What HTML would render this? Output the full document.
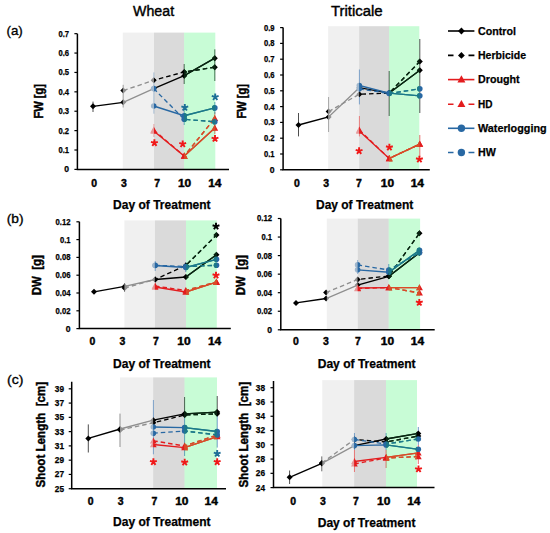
<!DOCTYPE html>
<html><head><meta charset="utf-8"><style>
html,body{margin:0;padding:0;background:#fff;}
svg{display:block;font-family:"Liberation Sans", sans-serif;}
</style></head><body>
<svg width="550" height="533" viewBox="0 0 550 533">
<rect width="550" height="533" fill="#fff"/>
<rect x="154" y="32.6" width="30.10" height="136.80" fill="#dadada"/>
<line x1="93.00" y1="101.6" x2="93.00" y2="112" stroke="#3a3a3a" stroke-width="0.9"/>
<line x1="123.30" y1="84.8" x2="123.30" y2="107.5" stroke="#3a3a3a" stroke-width="0.9"/>
<line x1="153.70" y1="72.4" x2="153.70" y2="113.7" stroke="#5a8cc0" stroke-width="0.9"/>
<line x1="184.20" y1="64" x2="184.20" y2="84" stroke="#3a3a3a" stroke-width="0.9"/>
<line x1="214.80" y1="49.3" x2="214.80" y2="81" stroke="#3a3a3a" stroke-width="0.9"/>
<line x1="153.70" y1="124" x2="153.70" y2="137" stroke="#e85a5a" stroke-width="0.9"/>
<line x1="214.80" y1="112" x2="214.80" y2="134" stroke="#e85a5a" stroke-width="0.9"/>
<line x1="184.20" y1="110" x2="184.20" y2="125" stroke="#5a8cc0" stroke-width="0.9"/>
<line x1="214.80" y1="102" x2="214.80" y2="114" stroke="#5a8cc0" stroke-width="0.9"/>
<path d="M93.00 106.30L123.30 102.30L153.70 88.60L184.20 75.70L214.80 58.20" fill="none" stroke="#000" stroke-width="1.35"/>
<path d="M90.00 106.30L93.00 103.30L96.00 106.30L93.00 109.30Z" fill="#000"/>
<path d="M120.30 102.30L123.30 99.30L126.30 102.30L123.30 105.30Z" fill="#000"/>
<path d="M150.70 88.60L153.70 85.60L156.70 88.60L153.70 91.60Z" fill="#000"/>
<path d="M181.20 75.70L184.20 72.70L187.20 75.70L184.20 78.70Z" fill="#000"/>
<path d="M211.80 58.20L214.80 55.20L217.80 58.20L214.80 61.20Z" fill="#000"/>
<path d="M123.30 90.60L153.70 80.30L184.20 72.00L214.80 67.20" fill="none" stroke="#000" stroke-width="1.35" stroke-dasharray="4.5 3"/>
<path d="M120.30 90.60L123.30 87.60L126.30 90.60L123.30 93.60Z" fill="#000"/>
<path d="M150.70 80.30L153.70 77.30L156.70 80.30L153.70 83.30Z" fill="#000"/>
<path d="M181.20 72.00L184.20 69.00L187.20 72.00L184.20 75.00Z" fill="#000"/>
<path d="M211.80 67.20L214.80 64.20L217.80 67.20L214.80 70.20Z" fill="#000"/>
<path d="M153.70 131.00L184.20 156.00L214.80 128.00" fill="none" stroke="#e31c1e" stroke-width="1.35"/>
<path d="M150.30 133.72L153.70 127.60L157.10 133.72Z" fill="#e31c1e"/>
<path d="M180.80 158.72L184.20 152.60L187.60 158.72Z" fill="#e31c1e"/>
<path d="M211.40 130.72L214.80 124.60L218.20 130.72Z" fill="#e31c1e"/>
<path d="M153.70 130.00L184.20 156.00L214.80 118.40" fill="none" stroke="#e31c1e" stroke-width="1.35" stroke-dasharray="4.5 3"/>
<path d="M150.30 132.72L153.70 126.60L157.10 132.72Z" fill="#e31c1e"/>
<path d="M180.80 158.72L184.20 152.60L187.60 158.72Z" fill="#e31c1e"/>
<path d="M211.40 121.12L214.80 115.00L218.20 121.12Z" fill="#e31c1e"/>
<path d="M153.70 106.00L184.20 115.70L214.80 107.90" fill="none" stroke="#2868a3" stroke-width="1.35"/>
<circle cx="153.70" cy="106.00" r="2.8" fill="#2868a3"/>
<circle cx="184.20" cy="115.70" r="2.8" fill="#2868a3"/>
<circle cx="214.80" cy="107.90" r="2.8" fill="#2868a3"/>
<path d="M153.70 88.60L184.20 119.30L214.80 121.80" fill="none" stroke="#2868a3" stroke-width="1.35" stroke-dasharray="4.5 3"/>
<circle cx="153.70" cy="88.60" r="2.8" fill="#2868a3"/>
<circle cx="184.20" cy="119.30" r="2.8" fill="#2868a3"/>
<circle cx="214.80" cy="121.80" r="2.8" fill="#2868a3"/>
<rect x="122.8" y="32.6" width="31.20" height="136.80" fill="#e6e6e6" fill-opacity="0.62"/>
<rect x="184.1" y="32.6" width="31.20" height="136.80" fill="#23f35b" fill-opacity="0.25"/>
<clipPath id="g77_169"><rect x="184.1" y="32.6" width="31.20" height="136.80"/></clipPath>
<g clip-path="url(#g77_169)">
<path d="M93.00 106.30L123.30 102.30L153.70 88.60L184.20 75.70L214.80 58.20" fill="none" stroke="#0a2312" stroke-width="1.35"/>
<path d="M90.00 106.30L93.00 103.30L96.00 106.30L93.00 109.30Z" fill="#0a2312"/>
<path d="M120.30 102.30L123.30 99.30L126.30 102.30L123.30 105.30Z" fill="#0a2312"/>
<path d="M150.70 88.60L153.70 85.60L156.70 88.60L153.70 91.60Z" fill="#0a2312"/>
<path d="M181.20 75.70L184.20 72.70L187.20 75.70L184.20 78.70Z" fill="#0a2312"/>
<path d="M211.80 58.20L214.80 55.20L217.80 58.20L214.80 61.20Z" fill="#0a2312"/>
<path d="M123.30 90.60L153.70 80.30L184.20 72.00L214.80 67.20" fill="none" stroke="#0a2312" stroke-width="1.35" stroke-dasharray="4.5 3"/>
<path d="M120.30 90.60L123.30 87.60L126.30 90.60L123.30 93.60Z" fill="#0a2312"/>
<path d="M150.70 80.30L153.70 77.30L156.70 80.30L153.70 83.30Z" fill="#0a2312"/>
<path d="M181.20 72.00L184.20 69.00L187.20 72.00L184.20 75.00Z" fill="#0a2312"/>
<path d="M211.80 67.20L214.80 64.20L217.80 67.20L214.80 70.20Z" fill="#0a2312"/>
<path d="M153.70 131.00L184.20 156.00L214.80 128.00" fill="none" stroke="#dc4a28" stroke-width="1.35"/>
<path d="M150.30 133.72L153.70 127.60L157.10 133.72Z" fill="#dc4a28"/>
<path d="M180.80 158.72L184.20 152.60L187.60 158.72Z" fill="#dc4a28"/>
<path d="M211.40 130.72L214.80 124.60L218.20 130.72Z" fill="#dc4a28"/>
<path d="M153.70 130.00L184.20 156.00L214.80 118.40" fill="none" stroke="#dc4a28" stroke-width="1.35" stroke-dasharray="4.5 3"/>
<path d="M150.30 132.72L153.70 126.60L157.10 132.72Z" fill="#dc4a28"/>
<path d="M180.80 158.72L184.20 152.60L187.60 158.72Z" fill="#dc4a28"/>
<path d="M211.40 121.12L214.80 115.00L218.20 121.12Z" fill="#dc4a28"/>
<path d="M153.70 106.00L184.20 115.70L214.80 107.90" fill="none" stroke="#1c7889" stroke-width="1.35"/>
<circle cx="153.70" cy="106.00" r="2.8" fill="#1c7889"/>
<circle cx="184.20" cy="115.70" r="2.8" fill="#1c7889"/>
<circle cx="214.80" cy="107.90" r="2.8" fill="#1c7889"/>
<path d="M153.70 88.60L184.20 119.30L214.80 121.80" fill="none" stroke="#1c7889" stroke-width="1.35" stroke-dasharray="4.5 3"/>
<circle cx="153.70" cy="88.60" r="2.8" fill="#1c7889"/>
<circle cx="184.20" cy="119.30" r="2.8" fill="#1c7889"/>
<circle cx="214.80" cy="121.80" r="2.8" fill="#1c7889"/>
</g>
<path d="M154.40 142.95L154.40 139.35M154.40 142.95L157.82 141.84M154.40 142.95L156.52 145.86M154.40 142.95L152.28 145.86M154.40 142.95L150.98 141.84" stroke="#f01818" stroke-width="1.9" stroke-linecap="butt" fill="none"/>
<path d="M182.70 144.05L182.70 140.45M182.70 144.05L186.12 142.94M182.70 144.05L184.82 146.96M182.70 144.05L180.58 146.96M182.70 144.05L179.28 142.94" stroke="#f01818" stroke-width="1.9" stroke-linecap="butt" fill="none"/>
<path d="M215.00 138.65L215.00 135.05M215.00 138.65L218.42 137.54M215.00 138.65L217.12 141.56M215.00 138.65L212.88 141.56M215.00 138.65L211.58 137.54" stroke="#f01818" stroke-width="1.9" stroke-linecap="butt" fill="none"/>
<path d="M184.80 107.55L184.80 103.95M184.80 107.55L188.22 106.44M184.80 107.55L186.92 110.46M184.80 107.55L182.68 110.46M184.80 107.55L181.38 106.44" stroke="#1d6e96" stroke-width="1.9" stroke-linecap="butt" fill="none"/>
<path d="M215.20 97.05L215.20 93.45M215.20 97.05L218.62 95.94M215.20 97.05L217.32 99.96M215.20 97.05L213.08 99.96M215.20 97.05L211.78 95.94" stroke="#1d6e96" stroke-width="1.9" stroke-linecap="butt" fill="none"/>
<path d="M77.4 33.7V169.4H229" fill="none" stroke="#000" stroke-width="1.5"/>
<line x1="74.4" y1="169.4" x2="77.4" y2="169.4" stroke="#000" stroke-width="1.2"/>
<text x="69" y="172.3" font-size="8.4" font-weight="bold" text-anchor="end" fill="#000" textLength="4.8" lengthAdjust="spacingAndGlyphs" stroke="#000" stroke-width="0.25">0</text>
<line x1="74.4" y1="150.01" x2="77.4" y2="150.01" stroke="#000" stroke-width="1.2"/>
<text x="69" y="152.91" font-size="8.4" font-weight="bold" text-anchor="end" fill="#000" textLength="10.6" lengthAdjust="spacingAndGlyphs" stroke="#000" stroke-width="0.25">0.1</text>
<line x1="74.4" y1="130.62" x2="77.4" y2="130.62" stroke="#000" stroke-width="1.2"/>
<text x="69" y="133.52" font-size="8.4" font-weight="bold" text-anchor="end" fill="#000" textLength="10.6" lengthAdjust="spacingAndGlyphs" stroke="#000" stroke-width="0.25">0.2</text>
<line x1="74.4" y1="111.23" x2="77.4" y2="111.23" stroke="#000" stroke-width="1.2"/>
<text x="69" y="114.13000000000001" font-size="8.4" font-weight="bold" text-anchor="end" fill="#000" textLength="10.6" lengthAdjust="spacingAndGlyphs" stroke="#000" stroke-width="0.25">0.3</text>
<line x1="74.4" y1="91.84" x2="77.4" y2="91.84" stroke="#000" stroke-width="1.2"/>
<text x="69" y="94.74000000000001" font-size="8.4" font-weight="bold" text-anchor="end" fill="#000" textLength="10.6" lengthAdjust="spacingAndGlyphs" stroke="#000" stroke-width="0.25">0.4</text>
<line x1="74.4" y1="72.45" x2="77.4" y2="72.45" stroke="#000" stroke-width="1.2"/>
<text x="69" y="75.35000000000001" font-size="8.4" font-weight="bold" text-anchor="end" fill="#000" textLength="10.6" lengthAdjust="spacingAndGlyphs" stroke="#000" stroke-width="0.25">0.5</text>
<line x1="74.4" y1="53.06" x2="77.4" y2="53.06" stroke="#000" stroke-width="1.2"/>
<text x="69" y="55.96" font-size="8.4" font-weight="bold" text-anchor="end" fill="#000" textLength="10.6" lengthAdjust="spacingAndGlyphs" stroke="#000" stroke-width="0.25">0.6</text>
<line x1="74.4" y1="33.66999999999999" x2="77.4" y2="33.66999999999999" stroke="#000" stroke-width="1.2"/>
<text x="69" y="36.569999999999986" font-size="8.4" font-weight="bold" text-anchor="end" fill="#000" textLength="10.6" lengthAdjust="spacingAndGlyphs" stroke="#000" stroke-width="0.25">0.7</text>
<text x="94.2" y="187.2" font-size="10" font-weight="bold" text-anchor="middle" fill="#000" textLength="5.8" lengthAdjust="spacingAndGlyphs" stroke="#000" stroke-width="0.4">0</text>
<text x="123.8" y="187.2" font-size="10" font-weight="bold" text-anchor="middle" fill="#000" textLength="5.8" lengthAdjust="spacingAndGlyphs" stroke="#000" stroke-width="0.4">3</text>
<text x="157.1" y="187.2" font-size="10" font-weight="bold" text-anchor="middle" fill="#000" textLength="5.8" lengthAdjust="spacingAndGlyphs" stroke="#000" stroke-width="0.4">7</text>
<text x="184.6" y="187.2" font-size="10" font-weight="bold" text-anchor="middle" fill="#000" textLength="13.3" lengthAdjust="spacingAndGlyphs" stroke="#000" stroke-width="0.4">10</text>
<text x="214.8" y="187.2" font-size="10" font-weight="bold" text-anchor="middle" fill="#000" textLength="13.3" lengthAdjust="spacingAndGlyphs" stroke="#000" stroke-width="0.4">14</text>
<text x="161.85" y="209.10000000000002" font-size="12" font-weight="bold" text-anchor="middle" fill="#000" textLength="97.5" lengthAdjust="spacingAndGlyphs" stroke="#000" stroke-width="0.25">Day of Treatment</text>
<g transform="translate(42.60,101.30) rotate(-90)">
<text x="0" y="0" font-size="12" font-weight="bold" text-anchor="middle" fill="#000" textLength="34.6" lengthAdjust="spacingAndGlyphs" xml:space="preserve" stroke="#000" stroke-width="0.45">FW [g]</text>
</g>
<rect x="359.1" y="26.2" width="30.00" height="143.60" fill="#dadada"/>
<line x1="298.50" y1="113" x2="298.50" y2="136.4" stroke="#3a3a3a" stroke-width="0.9"/>
<line x1="328.60" y1="97" x2="328.60" y2="132" stroke="#3a3a3a" stroke-width="0.9"/>
<line x1="359.30" y1="69.5" x2="359.30" y2="104.4" stroke="#5a8cc0" stroke-width="0.9"/>
<line x1="359.30" y1="116" x2="359.30" y2="136.4" stroke="#e85a5a" stroke-width="0.9"/>
<line x1="389.20" y1="71" x2="389.20" y2="116" stroke="#3a3a3a" stroke-width="0.9"/>
<line x1="419.80" y1="39" x2="419.80" y2="113" stroke="#3a3a3a" stroke-width="0.9"/>
<line x1="419.80" y1="135" x2="419.80" y2="156.7" stroke="#e85a5a" stroke-width="0.9"/>
<path d="M298.50 125.00L328.60 116.90L359.30 87.70L389.20 93.10L419.80 70.20" fill="none" stroke="#000" stroke-width="1.35"/>
<path d="M295.50 125.00L298.50 122.00L301.50 125.00L298.50 128.00Z" fill="#000"/>
<path d="M325.60 116.90L328.60 113.90L331.60 116.90L328.60 119.90Z" fill="#000"/>
<path d="M356.30 87.70L359.30 84.70L362.30 87.70L359.30 90.70Z" fill="#000"/>
<path d="M386.20 93.10L389.20 90.10L392.20 93.10L389.20 96.10Z" fill="#000"/>
<path d="M416.80 70.20L419.80 67.20L422.80 70.20L419.80 73.20Z" fill="#000"/>
<path d="M328.60 111.60L359.30 94.20L389.20 93.10L419.80 61.50" fill="none" stroke="#000" stroke-width="1.35" stroke-dasharray="4.5 3"/>
<path d="M325.60 111.60L328.60 108.60L331.60 111.60L328.60 114.60Z" fill="#000"/>
<path d="M356.30 94.20L359.30 91.20L362.30 94.20L359.30 97.20Z" fill="#000"/>
<path d="M386.20 93.10L389.20 90.10L392.20 93.10L389.20 96.10Z" fill="#000"/>
<path d="M416.80 61.50L419.80 58.50L422.80 61.50L419.80 64.50Z" fill="#000"/>
<path d="M359.30 131.00L389.20 158.50L419.80 144.10" fill="none" stroke="#e31c1e" stroke-width="1.35"/>
<path d="M355.90 133.72L359.30 127.60L362.70 133.72Z" fill="#e31c1e"/>
<path d="M385.80 161.22L389.20 155.10L392.60 161.22Z" fill="#e31c1e"/>
<path d="M416.40 146.82L419.80 140.70L423.20 146.82Z" fill="#e31c1e"/>
<path d="M359.30 130.00L389.20 158.50L419.80 144.10" fill="none" stroke="#e31c1e" stroke-width="1.35" stroke-dasharray="4.5 3"/>
<path d="M355.90 132.72L359.30 126.60L362.70 132.72Z" fill="#e31c1e"/>
<path d="M385.80 161.22L389.20 155.10L392.60 161.22Z" fill="#e31c1e"/>
<path d="M416.40 146.82L419.80 140.70L423.20 146.82Z" fill="#e31c1e"/>
<path d="M359.30 85.50L389.20 93.10L419.80 95.80" fill="none" stroke="#2868a3" stroke-width="1.35"/>
<circle cx="359.30" cy="85.50" r="2.8" fill="#2868a3"/>
<circle cx="389.20" cy="93.10" r="2.8" fill="#2868a3"/>
<circle cx="419.80" cy="95.80" r="2.8" fill="#2868a3"/>
<path d="M359.30 88.80L389.20 93.50L419.80 88.80" fill="none" stroke="#2868a3" stroke-width="1.35" stroke-dasharray="4.5 3"/>
<circle cx="359.30" cy="88.80" r="2.8" fill="#2868a3"/>
<circle cx="389.20" cy="93.50" r="2.8" fill="#2868a3"/>
<circle cx="419.80" cy="88.80" r="2.8" fill="#2868a3"/>
<rect x="328.1" y="26.2" width="31.00" height="143.60" fill="#e6e6e6" fill-opacity="0.62"/>
<rect x="389.1" y="26.2" width="30.20" height="143.60" fill="#23f35b" fill-opacity="0.25"/>
<clipPath id="g283_169"><rect x="389.1" y="26.2" width="30.20" height="143.60"/></clipPath>
<g clip-path="url(#g283_169)">
<path d="M298.50 125.00L328.60 116.90L359.30 87.70L389.20 93.10L419.80 70.20" fill="none" stroke="#0a2312" stroke-width="1.35"/>
<path d="M295.50 125.00L298.50 122.00L301.50 125.00L298.50 128.00Z" fill="#0a2312"/>
<path d="M325.60 116.90L328.60 113.90L331.60 116.90L328.60 119.90Z" fill="#0a2312"/>
<path d="M356.30 87.70L359.30 84.70L362.30 87.70L359.30 90.70Z" fill="#0a2312"/>
<path d="M386.20 93.10L389.20 90.10L392.20 93.10L389.20 96.10Z" fill="#0a2312"/>
<path d="M416.80 70.20L419.80 67.20L422.80 70.20L419.80 73.20Z" fill="#0a2312"/>
<path d="M328.60 111.60L359.30 94.20L389.20 93.10L419.80 61.50" fill="none" stroke="#0a2312" stroke-width="1.35" stroke-dasharray="4.5 3"/>
<path d="M325.60 111.60L328.60 108.60L331.60 111.60L328.60 114.60Z" fill="#0a2312"/>
<path d="M356.30 94.20L359.30 91.20L362.30 94.20L359.30 97.20Z" fill="#0a2312"/>
<path d="M386.20 93.10L389.20 90.10L392.20 93.10L389.20 96.10Z" fill="#0a2312"/>
<path d="M416.80 61.50L419.80 58.50L422.80 61.50L419.80 64.50Z" fill="#0a2312"/>
<path d="M359.30 131.00L389.20 158.50L419.80 144.10" fill="none" stroke="#dc4a28" stroke-width="1.35"/>
<path d="M355.90 133.72L359.30 127.60L362.70 133.72Z" fill="#dc4a28"/>
<path d="M385.80 161.22L389.20 155.10L392.60 161.22Z" fill="#dc4a28"/>
<path d="M416.40 146.82L419.80 140.70L423.20 146.82Z" fill="#dc4a28"/>
<path d="M359.30 130.00L389.20 158.50L419.80 144.10" fill="none" stroke="#dc4a28" stroke-width="1.35" stroke-dasharray="4.5 3"/>
<path d="M355.90 132.72L359.30 126.60L362.70 132.72Z" fill="#dc4a28"/>
<path d="M385.80 161.22L389.20 155.10L392.60 161.22Z" fill="#dc4a28"/>
<path d="M416.40 146.82L419.80 140.70L423.20 146.82Z" fill="#dc4a28"/>
<path d="M359.30 85.50L389.20 93.10L419.80 95.80" fill="none" stroke="#1c7889" stroke-width="1.35"/>
<circle cx="359.30" cy="85.50" r="2.8" fill="#1c7889"/>
<circle cx="389.20" cy="93.10" r="2.8" fill="#1c7889"/>
<circle cx="419.80" cy="95.80" r="2.8" fill="#1c7889"/>
<path d="M359.30 88.80L389.20 93.50L419.80 88.80" fill="none" stroke="#1c7889" stroke-width="1.35" stroke-dasharray="4.5 3"/>
<circle cx="359.30" cy="88.80" r="2.8" fill="#1c7889"/>
<circle cx="389.20" cy="93.50" r="2.8" fill="#1c7889"/>
<circle cx="419.80" cy="88.80" r="2.8" fill="#1c7889"/>
</g>
<path d="M359.10 150.95L359.10 147.35M359.10 150.95L362.52 149.84M359.10 150.95L361.22 153.86M359.10 150.95L356.98 153.86M359.10 150.95L355.68 149.84" stroke="#f01818" stroke-width="1.9" stroke-linecap="butt" fill="none"/>
<path d="M389.40 147.35L389.40 143.75M389.40 147.35L392.82 146.24M389.40 147.35L391.52 150.26M389.40 147.35L387.28 150.26M389.40 147.35L385.98 146.24" stroke="#f01818" stroke-width="1.9" stroke-linecap="butt" fill="none"/>
<path d="M419.40 159.35L419.40 155.75M419.40 159.35L422.82 158.24M419.40 159.35L421.52 162.26M419.40 159.35L417.28 162.26M419.40 159.35L415.98 158.24" stroke="#f01818" stroke-width="1.9" stroke-linecap="butt" fill="none"/>
<path d="M283.1 27.5V169.8H429.8" fill="none" stroke="#000" stroke-width="1.5"/>
<line x1="280.1" y1="169.8" x2="283.1" y2="169.8" stroke="#000" stroke-width="1.2"/>
<text x="274.5" y="172.70000000000002" font-size="8.4" font-weight="bold" text-anchor="end" fill="#000" textLength="4.8" lengthAdjust="spacingAndGlyphs" stroke="#000" stroke-width="0.25">0</text>
<line x1="280.1" y1="154.0" x2="283.1" y2="154.0" stroke="#000" stroke-width="1.2"/>
<text x="274.5" y="156.9" font-size="8.4" font-weight="bold" text-anchor="end" fill="#000" textLength="10.6" lengthAdjust="spacingAndGlyphs" stroke="#000" stroke-width="0.25">0.1</text>
<line x1="280.1" y1="138.20000000000002" x2="283.1" y2="138.20000000000002" stroke="#000" stroke-width="1.2"/>
<text x="274.5" y="141.10000000000002" font-size="8.4" font-weight="bold" text-anchor="end" fill="#000" textLength="10.6" lengthAdjust="spacingAndGlyphs" stroke="#000" stroke-width="0.25">0.2</text>
<line x1="280.1" y1="122.4" x2="283.1" y2="122.4" stroke="#000" stroke-width="1.2"/>
<text x="274.5" y="125.30000000000001" font-size="8.4" font-weight="bold" text-anchor="end" fill="#000" textLength="10.6" lengthAdjust="spacingAndGlyphs" stroke="#000" stroke-width="0.25">0.3</text>
<line x1="280.1" y1="106.60000000000001" x2="283.1" y2="106.60000000000001" stroke="#000" stroke-width="1.2"/>
<text x="274.5" y="109.50000000000001" font-size="8.4" font-weight="bold" text-anchor="end" fill="#000" textLength="10.6" lengthAdjust="spacingAndGlyphs" stroke="#000" stroke-width="0.25">0.4</text>
<line x1="280.1" y1="90.80000000000001" x2="283.1" y2="90.80000000000001" stroke="#000" stroke-width="1.2"/>
<text x="274.5" y="93.70000000000002" font-size="8.4" font-weight="bold" text-anchor="end" fill="#000" textLength="10.6" lengthAdjust="spacingAndGlyphs" stroke="#000" stroke-width="0.25">0.5</text>
<line x1="280.1" y1="75.0" x2="283.1" y2="75.0" stroke="#000" stroke-width="1.2"/>
<text x="274.5" y="77.9" font-size="8.4" font-weight="bold" text-anchor="end" fill="#000" textLength="10.6" lengthAdjust="spacingAndGlyphs" stroke="#000" stroke-width="0.25">0.6</text>
<line x1="280.1" y1="59.2" x2="283.1" y2="59.2" stroke="#000" stroke-width="1.2"/>
<text x="274.5" y="62.1" font-size="8.4" font-weight="bold" text-anchor="end" fill="#000" textLength="10.6" lengthAdjust="spacingAndGlyphs" stroke="#000" stroke-width="0.25">0.7</text>
<line x1="280.1" y1="43.400000000000006" x2="283.1" y2="43.400000000000006" stroke="#000" stroke-width="1.2"/>
<text x="274.5" y="46.300000000000004" font-size="8.4" font-weight="bold" text-anchor="end" fill="#000" textLength="10.6" lengthAdjust="spacingAndGlyphs" stroke="#000" stroke-width="0.25">0.8</text>
<line x1="280.1" y1="27.599999999999994" x2="283.1" y2="27.599999999999994" stroke="#000" stroke-width="1.2"/>
<text x="274.5" y="30.499999999999993" font-size="8.4" font-weight="bold" text-anchor="end" fill="#000" textLength="10.6" lengthAdjust="spacingAndGlyphs" stroke="#000" stroke-width="0.25">0.9</text>
<text x="297" y="186.79999999999998" font-size="10" font-weight="bold" text-anchor="middle" fill="#000" textLength="5.8" lengthAdjust="spacingAndGlyphs" stroke="#000" stroke-width="0.4">0</text>
<text x="326.2" y="186.79999999999998" font-size="10" font-weight="bold" text-anchor="middle" fill="#000" textLength="5.8" lengthAdjust="spacingAndGlyphs" stroke="#000" stroke-width="0.4">3</text>
<text x="359" y="186.79999999999998" font-size="10" font-weight="bold" text-anchor="middle" fill="#000" textLength="5.8" lengthAdjust="spacingAndGlyphs" stroke="#000" stroke-width="0.4">7</text>
<text x="387.5" y="186.79999999999998" font-size="10" font-weight="bold" text-anchor="middle" fill="#000" textLength="13.3" lengthAdjust="spacingAndGlyphs" stroke="#000" stroke-width="0.4">10</text>
<text x="417.3" y="186.79999999999998" font-size="10" font-weight="bold" text-anchor="middle" fill="#000" textLength="13.3" lengthAdjust="spacingAndGlyphs" stroke="#000" stroke-width="0.4">14</text>
<text x="364.6" y="209.3" font-size="12" font-weight="bold" text-anchor="middle" fill="#000" textLength="97.19999999999999" lengthAdjust="spacingAndGlyphs" stroke="#000" stroke-width="0.25">Day of Treatment</text>
<g transform="translate(246.40,101.30) rotate(-90)">
<text x="0" y="0" font-size="12" font-weight="bold" text-anchor="middle" fill="#000" textLength="34.6" lengthAdjust="spacingAndGlyphs" xml:space="preserve" stroke="#000" stroke-width="0.45">FW [g]</text>
</g>
<rect x="154.8" y="220.4" width="31.20" height="108.20" fill="#dadada"/>
<line x1="155.10" y1="261" x2="155.10" y2="271" stroke="#5a8cc0" stroke-width="0.9"/>
<line x1="185.80" y1="262" x2="185.80" y2="272" stroke="#5a8cc0" stroke-width="0.9"/>
<line x1="124.60" y1="283" x2="124.60" y2="292" stroke="#3a3a3a" stroke-width="0.9"/>
<path d="M94.00 291.80L124.60 286.40L155.10 279.50L185.80 277.00L216.50 254.80" fill="none" stroke="#000" stroke-width="1.35"/>
<path d="M91.00 291.80L94.00 288.80L97.00 291.80L94.00 294.80Z" fill="#000"/>
<path d="M121.60 286.40L124.60 283.40L127.60 286.40L124.60 289.40Z" fill="#000"/>
<path d="M152.10 279.50L155.10 276.50L158.10 279.50L155.10 282.50Z" fill="#000"/>
<path d="M182.80 277.00L185.80 274.00L188.80 277.00L185.80 280.00Z" fill="#000"/>
<path d="M213.50 254.80L216.50 251.80L219.50 254.80L216.50 257.80Z" fill="#000"/>
<path d="M124.60 288.00L155.10 279.50L185.80 265.50L216.50 235.00" fill="none" stroke="#000" stroke-width="1.35" stroke-dasharray="4.5 3"/>
<path d="M121.60 288.00L124.60 285.00L127.60 288.00L124.60 291.00Z" fill="#000"/>
<path d="M152.10 279.50L155.10 276.50L158.10 279.50L155.10 282.50Z" fill="#000"/>
<path d="M182.80 265.50L185.80 262.50L188.80 265.50L185.80 268.50Z" fill="#000"/>
<path d="M213.50 235.00L216.50 232.00L219.50 235.00L216.50 238.00Z" fill="#000"/>
<path d="M155.10 287.00L185.80 292.00L216.50 282.20" fill="none" stroke="#e31c1e" stroke-width="1.35"/>
<path d="M151.70 289.72L155.10 283.60L158.50 289.72Z" fill="#e31c1e"/>
<path d="M182.40 294.72L185.80 288.60L189.20 294.72Z" fill="#e31c1e"/>
<path d="M213.10 284.92L216.50 278.80L219.90 284.92Z" fill="#e31c1e"/>
<path d="M155.10 286.00L185.80 290.50L216.50 282.00" fill="none" stroke="#e31c1e" stroke-width="1.35" stroke-dasharray="4.5 3"/>
<path d="M151.70 288.72L155.10 282.60L158.50 288.72Z" fill="#e31c1e"/>
<path d="M182.40 293.22L185.80 287.10L189.20 293.22Z" fill="#e31c1e"/>
<path d="M213.10 284.72L216.50 278.60L219.90 284.72Z" fill="#e31c1e"/>
<path d="M155.10 265.50L185.80 267.50L216.50 259.30" fill="none" stroke="#2868a3" stroke-width="1.35"/>
<circle cx="155.10" cy="265.50" r="2.8" fill="#2868a3"/>
<circle cx="185.80" cy="267.50" r="2.8" fill="#2868a3"/>
<circle cx="216.50" cy="259.30" r="2.8" fill="#2868a3"/>
<path d="M155.10 265.30L185.80 266.50L216.50 265.30" fill="none" stroke="#2868a3" stroke-width="1.35" stroke-dasharray="4.5 3"/>
<circle cx="155.10" cy="265.30" r="2.8" fill="#2868a3"/>
<circle cx="185.80" cy="266.50" r="2.8" fill="#2868a3"/>
<circle cx="216.50" cy="265.30" r="2.8" fill="#2868a3"/>
<rect x="124.4" y="220.4" width="30.40" height="108.20" fill="#e6e6e6" fill-opacity="0.62"/>
<rect x="186" y="220.4" width="30.80" height="108.20" fill="#23f35b" fill-opacity="0.25"/>
<clipPath id="g79_328"><rect x="186" y="220.4" width="30.80" height="108.20"/></clipPath>
<g clip-path="url(#g79_328)">
<path d="M94.00 291.80L124.60 286.40L155.10 279.50L185.80 277.00L216.50 254.80" fill="none" stroke="#0a2312" stroke-width="1.35"/>
<path d="M91.00 291.80L94.00 288.80L97.00 291.80L94.00 294.80Z" fill="#0a2312"/>
<path d="M121.60 286.40L124.60 283.40L127.60 286.40L124.60 289.40Z" fill="#0a2312"/>
<path d="M152.10 279.50L155.10 276.50L158.10 279.50L155.10 282.50Z" fill="#0a2312"/>
<path d="M182.80 277.00L185.80 274.00L188.80 277.00L185.80 280.00Z" fill="#0a2312"/>
<path d="M213.50 254.80L216.50 251.80L219.50 254.80L216.50 257.80Z" fill="#0a2312"/>
<path d="M124.60 288.00L155.10 279.50L185.80 265.50L216.50 235.00" fill="none" stroke="#0a2312" stroke-width="1.35" stroke-dasharray="4.5 3"/>
<path d="M121.60 288.00L124.60 285.00L127.60 288.00L124.60 291.00Z" fill="#0a2312"/>
<path d="M152.10 279.50L155.10 276.50L158.10 279.50L155.10 282.50Z" fill="#0a2312"/>
<path d="M182.80 265.50L185.80 262.50L188.80 265.50L185.80 268.50Z" fill="#0a2312"/>
<path d="M213.50 235.00L216.50 232.00L219.50 235.00L216.50 238.00Z" fill="#0a2312"/>
<path d="M155.10 287.00L185.80 292.00L216.50 282.20" fill="none" stroke="#dc4a28" stroke-width="1.35"/>
<path d="M151.70 289.72L155.10 283.60L158.50 289.72Z" fill="#dc4a28"/>
<path d="M182.40 294.72L185.80 288.60L189.20 294.72Z" fill="#dc4a28"/>
<path d="M213.10 284.92L216.50 278.80L219.90 284.92Z" fill="#dc4a28"/>
<path d="M155.10 286.00L185.80 290.50L216.50 282.00" fill="none" stroke="#dc4a28" stroke-width="1.35" stroke-dasharray="4.5 3"/>
<path d="M151.70 288.72L155.10 282.60L158.50 288.72Z" fill="#dc4a28"/>
<path d="M182.40 293.22L185.80 287.10L189.20 293.22Z" fill="#dc4a28"/>
<path d="M213.10 284.72L216.50 278.60L219.90 284.72Z" fill="#dc4a28"/>
<path d="M155.10 265.50L185.80 267.50L216.50 259.30" fill="none" stroke="#1c7889" stroke-width="1.35"/>
<circle cx="155.10" cy="265.50" r="2.8" fill="#1c7889"/>
<circle cx="185.80" cy="267.50" r="2.8" fill="#1c7889"/>
<circle cx="216.50" cy="259.30" r="2.8" fill="#1c7889"/>
<path d="M155.10 265.30L185.80 266.50L216.50 265.30" fill="none" stroke="#1c7889" stroke-width="1.35" stroke-dasharray="4.5 3"/>
<circle cx="155.10" cy="265.30" r="2.8" fill="#1c7889"/>
<circle cx="185.80" cy="266.50" r="2.8" fill="#1c7889"/>
<circle cx="216.50" cy="265.30" r="2.8" fill="#1c7889"/>
</g>
<path d="M216.00 226.35L216.00 222.75M216.00 226.35L219.42 225.24M216.00 226.35L218.12 229.26M216.00 226.35L213.88 229.26M216.00 226.35L212.58 225.24" stroke="#000" stroke-width="1.9" stroke-linecap="butt" fill="none"/>
<path d="M216.00 275.35L216.00 271.75M216.00 275.35L219.42 274.24M216.00 275.35L218.12 278.26M216.00 275.35L213.88 278.26M216.00 275.35L212.58 274.24" stroke="#f01818" stroke-width="1.9" stroke-linecap="butt" fill="none"/>
<path d="M79.4 221.8V328.6H230.8" fill="none" stroke="#000" stroke-width="1.5"/>
<line x1="76.4" y1="328.6" x2="79.4" y2="328.6" stroke="#000" stroke-width="1.2"/>
<text x="70.5" y="331.5" font-size="8.4" font-weight="bold" text-anchor="end" fill="#000" textLength="4.8" lengthAdjust="spacingAndGlyphs" stroke="#000" stroke-width="0.25">0</text>
<line x1="76.4" y1="310.8" x2="79.4" y2="310.8" stroke="#000" stroke-width="1.2"/>
<text x="70.5" y="313.7" font-size="8.4" font-weight="bold" text-anchor="end" fill="#000" textLength="15.0" lengthAdjust="spacingAndGlyphs" stroke="#000" stroke-width="0.25">0.02</text>
<line x1="76.4" y1="293.0" x2="79.4" y2="293.0" stroke="#000" stroke-width="1.2"/>
<text x="70.5" y="295.9" font-size="8.4" font-weight="bold" text-anchor="end" fill="#000" textLength="15.0" lengthAdjust="spacingAndGlyphs" stroke="#000" stroke-width="0.25">0.04</text>
<line x1="76.4" y1="275.20000000000005" x2="79.4" y2="275.20000000000005" stroke="#000" stroke-width="1.2"/>
<text x="70.5" y="278.1" font-size="8.4" font-weight="bold" text-anchor="end" fill="#000" textLength="15.0" lengthAdjust="spacingAndGlyphs" stroke="#000" stroke-width="0.25">0.06</text>
<line x1="76.4" y1="257.40000000000003" x2="79.4" y2="257.40000000000003" stroke="#000" stroke-width="1.2"/>
<text x="70.5" y="260.3" font-size="8.4" font-weight="bold" text-anchor="end" fill="#000" textLength="15.0" lengthAdjust="spacingAndGlyphs" stroke="#000" stroke-width="0.25">0.08</text>
<line x1="76.4" y1="239.60000000000002" x2="79.4" y2="239.60000000000002" stroke="#000" stroke-width="1.2"/>
<text x="70.5" y="242.50000000000003" font-size="8.4" font-weight="bold" text-anchor="end" fill="#000" textLength="10.6" lengthAdjust="spacingAndGlyphs" stroke="#000" stroke-width="0.25">0.1</text>
<line x1="76.4" y1="221.8" x2="79.4" y2="221.8" stroke="#000" stroke-width="1.2"/>
<text x="70.5" y="224.70000000000002" font-size="8.4" font-weight="bold" text-anchor="end" fill="#000" textLength="15.0" lengthAdjust="spacingAndGlyphs" stroke="#000" stroke-width="0.25">0.12</text>
<text x="92.4" y="345.0" font-size="10" font-weight="bold" text-anchor="middle" fill="#000" textLength="5.8" lengthAdjust="spacingAndGlyphs" stroke="#000" stroke-width="0.4">0</text>
<text x="122.5" y="345.0" font-size="10" font-weight="bold" text-anchor="middle" fill="#000" textLength="5.8" lengthAdjust="spacingAndGlyphs" stroke="#000" stroke-width="0.4">3</text>
<text x="155.8" y="345.0" font-size="10" font-weight="bold" text-anchor="middle" fill="#000" textLength="5.8" lengthAdjust="spacingAndGlyphs" stroke="#000" stroke-width="0.4">7</text>
<text x="183.9" y="345.0" font-size="10" font-weight="bold" text-anchor="middle" fill="#000" textLength="13.3" lengthAdjust="spacingAndGlyphs" stroke="#000" stroke-width="0.4">10</text>
<text x="214.6" y="345.0" font-size="10" font-weight="bold" text-anchor="middle" fill="#000" textLength="13.3" lengthAdjust="spacingAndGlyphs" stroke="#000" stroke-width="0.4">14</text>
<text x="161.8" y="368.1" font-size="12" font-weight="bold" text-anchor="middle" fill="#000" textLength="97.6" lengthAdjust="spacingAndGlyphs" stroke="#000" stroke-width="0.25">Day of Treatment</text>
<g transform="translate(41.20,275.20) rotate(-90)">
<text x="0" y="0" font-size="12.5" font-weight="bold" text-anchor="middle" fill="#000" textLength="40.2" lengthAdjust="spacingAndGlyphs" xml:space="preserve" stroke="#000" stroke-width="0.45">DW  [g]</text>
</g>
<rect x="357.6" y="218.6" width="31.10" height="111.20" fill="#dadada"/>
<line x1="357.60" y1="260" x2="357.60" y2="274" stroke="#5a8cc0" stroke-width="0.9"/>
<line x1="388.80" y1="264" x2="388.80" y2="276" stroke="#5a8cc0" stroke-width="0.9"/>
<path d="M296.00 302.90L326.10 298.50L357.60 285.10L388.80 276.30L419.50 252.70" fill="none" stroke="#000" stroke-width="1.35"/>
<path d="M293.00 302.90L296.00 299.90L299.00 302.90L296.00 305.90Z" fill="#000"/>
<path d="M323.10 298.50L326.10 295.50L329.10 298.50L326.10 301.50Z" fill="#000"/>
<path d="M354.60 285.10L357.60 282.10L360.60 285.10L357.60 288.10Z" fill="#000"/>
<path d="M385.80 276.30L388.80 273.30L391.80 276.30L388.80 279.30Z" fill="#000"/>
<path d="M416.50 252.70L419.50 249.70L422.50 252.70L419.50 255.70Z" fill="#000"/>
<path d="M326.10 292.50L357.60 279.50L388.80 276.00L419.50 233.20" fill="none" stroke="#000" stroke-width="1.35" stroke-dasharray="4.5 3"/>
<path d="M323.10 292.50L326.10 289.50L329.10 292.50L326.10 295.50Z" fill="#000"/>
<path d="M354.60 279.50L357.60 276.50L360.60 279.50L357.60 282.50Z" fill="#000"/>
<path d="M385.80 276.00L388.80 273.00L391.80 276.00L388.80 279.00Z" fill="#000"/>
<path d="M416.50 233.20L419.50 230.20L422.50 233.20L419.50 236.20Z" fill="#000"/>
<path d="M357.60 288.00L388.80 287.60L419.50 287.60" fill="none" stroke="#e31c1e" stroke-width="1.35"/>
<path d="M354.20 290.72L357.60 284.60L361.00 290.72Z" fill="#e31c1e"/>
<path d="M385.40 290.32L388.80 284.20L392.20 290.32Z" fill="#e31c1e"/>
<path d="M416.10 290.32L419.50 284.20L422.90 290.32Z" fill="#e31c1e"/>
<path d="M357.60 288.50L388.80 287.60L419.50 292.90" fill="none" stroke="#e31c1e" stroke-width="1.35" stroke-dasharray="4.5 3"/>
<path d="M354.20 291.22L357.60 285.10L361.00 291.22Z" fill="#e31c1e"/>
<path d="M385.40 290.32L388.80 284.20L392.20 290.32Z" fill="#e31c1e"/>
<path d="M416.10 295.62L419.50 289.50L422.90 295.62Z" fill="#e31c1e"/>
<path d="M357.60 269.80L388.80 272.20L419.50 250.20" fill="none" stroke="#2868a3" stroke-width="1.35"/>
<circle cx="357.60" cy="269.80" r="2.8" fill="#2868a3"/>
<circle cx="388.80" cy="272.20" r="2.8" fill="#2868a3"/>
<circle cx="419.50" cy="250.20" r="2.8" fill="#2868a3"/>
<path d="M357.60 264.90L388.80 270.00L419.50 252.70" fill="none" stroke="#2868a3" stroke-width="1.35" stroke-dasharray="4.5 3"/>
<circle cx="357.60" cy="264.90" r="2.8" fill="#2868a3"/>
<circle cx="388.80" cy="270.00" r="2.8" fill="#2868a3"/>
<circle cx="419.50" cy="252.70" r="2.8" fill="#2868a3"/>
<rect x="326.8" y="218.6" width="30.80" height="111.20" fill="#e6e6e6" fill-opacity="0.62"/>
<rect x="388.7" y="218.6" width="31.40" height="111.20" fill="#23f35b" fill-opacity="0.25"/>
<clipPath id="g280_329"><rect x="388.7" y="218.6" width="31.40" height="111.20"/></clipPath>
<g clip-path="url(#g280_329)">
<path d="M296.00 302.90L326.10 298.50L357.60 285.10L388.80 276.30L419.50 252.70" fill="none" stroke="#0a2312" stroke-width="1.35"/>
<path d="M293.00 302.90L296.00 299.90L299.00 302.90L296.00 305.90Z" fill="#0a2312"/>
<path d="M323.10 298.50L326.10 295.50L329.10 298.50L326.10 301.50Z" fill="#0a2312"/>
<path d="M354.60 285.10L357.60 282.10L360.60 285.10L357.60 288.10Z" fill="#0a2312"/>
<path d="M385.80 276.30L388.80 273.30L391.80 276.30L388.80 279.30Z" fill="#0a2312"/>
<path d="M416.50 252.70L419.50 249.70L422.50 252.70L419.50 255.70Z" fill="#0a2312"/>
<path d="M326.10 292.50L357.60 279.50L388.80 276.00L419.50 233.20" fill="none" stroke="#0a2312" stroke-width="1.35" stroke-dasharray="4.5 3"/>
<path d="M323.10 292.50L326.10 289.50L329.10 292.50L326.10 295.50Z" fill="#0a2312"/>
<path d="M354.60 279.50L357.60 276.50L360.60 279.50L357.60 282.50Z" fill="#0a2312"/>
<path d="M385.80 276.00L388.80 273.00L391.80 276.00L388.80 279.00Z" fill="#0a2312"/>
<path d="M416.50 233.20L419.50 230.20L422.50 233.20L419.50 236.20Z" fill="#0a2312"/>
<path d="M357.60 288.00L388.80 287.60L419.50 287.60" fill="none" stroke="#dc4a28" stroke-width="1.35"/>
<path d="M354.20 290.72L357.60 284.60L361.00 290.72Z" fill="#dc4a28"/>
<path d="M385.40 290.32L388.80 284.20L392.20 290.32Z" fill="#dc4a28"/>
<path d="M416.10 290.32L419.50 284.20L422.90 290.32Z" fill="#dc4a28"/>
<path d="M357.60 288.50L388.80 287.60L419.50 292.90" fill="none" stroke="#dc4a28" stroke-width="1.35" stroke-dasharray="4.5 3"/>
<path d="M354.20 291.22L357.60 285.10L361.00 291.22Z" fill="#dc4a28"/>
<path d="M385.40 290.32L388.80 284.20L392.20 290.32Z" fill="#dc4a28"/>
<path d="M416.10 295.62L419.50 289.50L422.90 295.62Z" fill="#dc4a28"/>
<path d="M357.60 269.80L388.80 272.20L419.50 250.20" fill="none" stroke="#1c7889" stroke-width="1.35"/>
<circle cx="357.60" cy="269.80" r="2.8" fill="#1c7889"/>
<circle cx="388.80" cy="272.20" r="2.8" fill="#1c7889"/>
<circle cx="419.50" cy="250.20" r="2.8" fill="#1c7889"/>
<path d="M357.60 264.90L388.80 270.00L419.50 252.70" fill="none" stroke="#1c7889" stroke-width="1.35" stroke-dasharray="4.5 3"/>
<circle cx="357.60" cy="264.90" r="2.8" fill="#1c7889"/>
<circle cx="388.80" cy="270.00" r="2.8" fill="#1c7889"/>
<circle cx="419.50" cy="252.70" r="2.8" fill="#1c7889"/>
</g>
<path d="M419.30 302.55L419.30 298.95M419.30 302.55L422.72 301.44M419.30 302.55L421.42 305.46M419.30 302.55L417.18 305.46M419.30 302.55L415.88 301.44" stroke="#f01818" stroke-width="1.9" stroke-linecap="butt" fill="none"/>
<path d="M280.8 218.5V329.8H434.7" fill="none" stroke="#000" stroke-width="1.5"/>
<line x1="277.8" y1="329.8" x2="280.8" y2="329.8" stroke="#000" stroke-width="1.2"/>
<text x="272" y="332.7" font-size="8.4" font-weight="bold" text-anchor="end" fill="#000" textLength="4.8" lengthAdjust="spacingAndGlyphs" stroke="#000" stroke-width="0.25">0</text>
<line x1="277.8" y1="311.25" x2="280.8" y2="311.25" stroke="#000" stroke-width="1.2"/>
<text x="272" y="314.15" font-size="8.4" font-weight="bold" text-anchor="end" fill="#000" textLength="15.0" lengthAdjust="spacingAndGlyphs" stroke="#000" stroke-width="0.25">0.02</text>
<line x1="277.8" y1="292.7" x2="280.8" y2="292.7" stroke="#000" stroke-width="1.2"/>
<text x="272" y="295.59999999999997" font-size="8.4" font-weight="bold" text-anchor="end" fill="#000" textLength="15.0" lengthAdjust="spacingAndGlyphs" stroke="#000" stroke-width="0.25">0.04</text>
<line x1="277.8" y1="274.15" x2="280.8" y2="274.15" stroke="#000" stroke-width="1.2"/>
<text x="272" y="277.04999999999995" font-size="8.4" font-weight="bold" text-anchor="end" fill="#000" textLength="15.0" lengthAdjust="spacingAndGlyphs" stroke="#000" stroke-width="0.25">0.06</text>
<line x1="277.8" y1="255.60000000000002" x2="280.8" y2="255.60000000000002" stroke="#000" stroke-width="1.2"/>
<text x="272" y="258.5" font-size="8.4" font-weight="bold" text-anchor="end" fill="#000" textLength="15.0" lengthAdjust="spacingAndGlyphs" stroke="#000" stroke-width="0.25">0.08</text>
<line x1="277.8" y1="237.05" x2="280.8" y2="237.05" stroke="#000" stroke-width="1.2"/>
<text x="272" y="239.95000000000002" font-size="8.4" font-weight="bold" text-anchor="end" fill="#000" textLength="10.6" lengthAdjust="spacingAndGlyphs" stroke="#000" stroke-width="0.25">0.1</text>
<line x1="277.8" y1="218.5" x2="280.8" y2="218.5" stroke="#000" stroke-width="1.2"/>
<text x="272" y="221.4" font-size="8.4" font-weight="bold" text-anchor="end" fill="#000" textLength="15.0" lengthAdjust="spacingAndGlyphs" stroke="#000" stroke-width="0.25">0.12</text>
<text x="295.9" y="345.1" font-size="10" font-weight="bold" text-anchor="middle" fill="#000" textLength="5.8" lengthAdjust="spacingAndGlyphs" stroke="#000" stroke-width="0.4">0</text>
<text x="326" y="345.1" font-size="10" font-weight="bold" text-anchor="middle" fill="#000" textLength="5.8" lengthAdjust="spacingAndGlyphs" stroke="#000" stroke-width="0.4">3</text>
<text x="358" y="345.1" font-size="10" font-weight="bold" text-anchor="middle" fill="#000" textLength="5.8" lengthAdjust="spacingAndGlyphs" stroke="#000" stroke-width="0.4">7</text>
<text x="387.5" y="345.1" font-size="10" font-weight="bold" text-anchor="middle" fill="#000" textLength="13.3" lengthAdjust="spacingAndGlyphs" stroke="#000" stroke-width="0.4">10</text>
<text x="417.5" y="345.1" font-size="10" font-weight="bold" text-anchor="middle" fill="#000" textLength="13.3" lengthAdjust="spacingAndGlyphs" stroke="#000" stroke-width="0.4">14</text>
<text x="366.65" y="368.3" font-size="12" font-weight="bold" text-anchor="middle" fill="#000" textLength="97.90000000000003" lengthAdjust="spacingAndGlyphs" stroke="#000" stroke-width="0.25">Day of Treatment</text>
<g transform="translate(245.20,275.20) rotate(-90)">
<text x="0" y="0" font-size="12.5" font-weight="bold" text-anchor="middle" fill="#000" textLength="40.2" lengthAdjust="spacingAndGlyphs" xml:space="preserve" stroke="#000" stroke-width="0.45">DW  [g]</text>
</g>
<rect x="153.1" y="377.4" width="31.40" height="111.30" fill="#dadada"/>
<line x1="88.30" y1="424.4" x2="88.30" y2="452.5" stroke="#3a3a3a" stroke-width="0.9"/>
<line x1="120.20" y1="413.6" x2="120.20" y2="447" stroke="#3a3a3a" stroke-width="0.9"/>
<line x1="153.30" y1="400" x2="153.30" y2="454.3" stroke="#5a8cc0" stroke-width="0.9"/>
<line x1="184.60" y1="397" x2="184.60" y2="414" stroke="#3a3a3a" stroke-width="0.9"/>
<line x1="184.60" y1="414" x2="184.60" y2="456" stroke="#5a8cc0" stroke-width="0.9"/>
<line x1="217.20" y1="396" x2="217.20" y2="412" stroke="#3a3a3a" stroke-width="0.9"/>
<line x1="217.20" y1="412" x2="217.20" y2="447.6" stroke="#5a8cc0" stroke-width="0.9"/>
<path d="M88.30 438.40L120.20 429.00L153.30 420.20L184.60 413.80L217.20 412.10" fill="none" stroke="#000" stroke-width="1.35"/>
<path d="M85.30 438.40L88.30 435.40L91.30 438.40L88.30 441.40Z" fill="#000"/>
<path d="M117.20 429.00L120.20 426.00L123.20 429.00L120.20 432.00Z" fill="#000"/>
<path d="M150.30 420.20L153.30 417.20L156.30 420.20L153.30 423.20Z" fill="#000"/>
<path d="M181.60 413.80L184.60 410.80L187.60 413.80L184.60 416.80Z" fill="#000"/>
<path d="M214.20 412.10L217.20 409.10L220.20 412.10L217.20 415.10Z" fill="#000"/>
<path d="M120.20 430.00L153.30 422.80L184.60 415.00L217.20 413.80" fill="none" stroke="#000" stroke-width="1.35" stroke-dasharray="4.5 3"/>
<path d="M117.20 430.00L120.20 427.00L123.20 430.00L120.20 433.00Z" fill="#000"/>
<path d="M150.30 422.80L153.30 419.80L156.30 422.80L153.30 425.80Z" fill="#000"/>
<path d="M181.60 415.00L184.60 412.00L187.60 415.00L184.60 418.00Z" fill="#000"/>
<path d="M214.20 413.80L217.20 410.80L220.20 413.80L217.20 416.80Z" fill="#000"/>
<path d="M153.30 444.50L184.60 447.60L217.20 436.60" fill="none" stroke="#e31c1e" stroke-width="1.35"/>
<path d="M149.90 447.22L153.30 441.10L156.70 447.22Z" fill="#e31c1e"/>
<path d="M181.20 450.32L184.60 444.20L188.00 450.32Z" fill="#e31c1e"/>
<path d="M213.80 439.32L217.20 433.20L220.60 439.32Z" fill="#e31c1e"/>
<path d="M153.30 440.80L184.60 446.00L217.20 435.00" fill="none" stroke="#e31c1e" stroke-width="1.35" stroke-dasharray="4.5 3"/>
<path d="M149.90 443.52L153.30 437.40L156.70 443.52Z" fill="#e31c1e"/>
<path d="M181.20 448.72L184.60 442.60L188.00 448.72Z" fill="#e31c1e"/>
<path d="M213.80 437.72L217.20 431.60L220.60 437.72Z" fill="#e31c1e"/>
<path d="M153.30 427.00L184.60 427.60L217.20 431.50" fill="none" stroke="#2868a3" stroke-width="1.35"/>
<circle cx="153.30" cy="427.00" r="2.8" fill="#2868a3"/>
<circle cx="184.60" cy="427.60" r="2.8" fill="#2868a3"/>
<circle cx="217.20" cy="431.50" r="2.8" fill="#2868a3"/>
<path d="M153.30 433.20L184.60 431.00L217.20 434.90" fill="none" stroke="#2868a3" stroke-width="1.35" stroke-dasharray="4.5 3"/>
<circle cx="153.30" cy="433.20" r="2.8" fill="#2868a3"/>
<circle cx="184.60" cy="431.00" r="2.8" fill="#2868a3"/>
<circle cx="217.20" cy="434.90" r="2.8" fill="#2868a3"/>
<rect x="120" y="377.4" width="33.10" height="111.30" fill="#e6e6e6" fill-opacity="0.62"/>
<rect x="184.5" y="377.4" width="32.50" height="111.30" fill="#23f35b" fill-opacity="0.25"/>
<clipPath id="g71_488"><rect x="184.5" y="377.4" width="32.50" height="111.30"/></clipPath>
<g clip-path="url(#g71_488)">
<path d="M88.30 438.40L120.20 429.00L153.30 420.20L184.60 413.80L217.20 412.10" fill="none" stroke="#0a2312" stroke-width="1.35"/>
<path d="M85.30 438.40L88.30 435.40L91.30 438.40L88.30 441.40Z" fill="#0a2312"/>
<path d="M117.20 429.00L120.20 426.00L123.20 429.00L120.20 432.00Z" fill="#0a2312"/>
<path d="M150.30 420.20L153.30 417.20L156.30 420.20L153.30 423.20Z" fill="#0a2312"/>
<path d="M181.60 413.80L184.60 410.80L187.60 413.80L184.60 416.80Z" fill="#0a2312"/>
<path d="M214.20 412.10L217.20 409.10L220.20 412.10L217.20 415.10Z" fill="#0a2312"/>
<path d="M120.20 430.00L153.30 422.80L184.60 415.00L217.20 413.80" fill="none" stroke="#0a2312" stroke-width="1.35" stroke-dasharray="4.5 3"/>
<path d="M117.20 430.00L120.20 427.00L123.20 430.00L120.20 433.00Z" fill="#0a2312"/>
<path d="M150.30 422.80L153.30 419.80L156.30 422.80L153.30 425.80Z" fill="#0a2312"/>
<path d="M181.60 415.00L184.60 412.00L187.60 415.00L184.60 418.00Z" fill="#0a2312"/>
<path d="M214.20 413.80L217.20 410.80L220.20 413.80L217.20 416.80Z" fill="#0a2312"/>
<path d="M153.30 444.50L184.60 447.60L217.20 436.60" fill="none" stroke="#dc4a28" stroke-width="1.35"/>
<path d="M149.90 447.22L153.30 441.10L156.70 447.22Z" fill="#dc4a28"/>
<path d="M181.20 450.32L184.60 444.20L188.00 450.32Z" fill="#dc4a28"/>
<path d="M213.80 439.32L217.20 433.20L220.60 439.32Z" fill="#dc4a28"/>
<path d="M153.30 440.80L184.60 446.00L217.20 435.00" fill="none" stroke="#dc4a28" stroke-width="1.35" stroke-dasharray="4.5 3"/>
<path d="M149.90 443.52L153.30 437.40L156.70 443.52Z" fill="#dc4a28"/>
<path d="M181.20 448.72L184.60 442.60L188.00 448.72Z" fill="#dc4a28"/>
<path d="M213.80 437.72L217.20 431.60L220.60 437.72Z" fill="#dc4a28"/>
<path d="M153.30 427.00L184.60 427.60L217.20 431.50" fill="none" stroke="#1c7889" stroke-width="1.35"/>
<circle cx="153.30" cy="427.00" r="2.8" fill="#1c7889"/>
<circle cx="184.60" cy="427.60" r="2.8" fill="#1c7889"/>
<circle cx="217.20" cy="431.50" r="2.8" fill="#1c7889"/>
<path d="M153.30 433.20L184.60 431.00L217.20 434.90" fill="none" stroke="#1c7889" stroke-width="1.35" stroke-dasharray="4.5 3"/>
<circle cx="153.30" cy="433.20" r="2.8" fill="#1c7889"/>
<circle cx="184.60" cy="431.00" r="2.8" fill="#1c7889"/>
<circle cx="217.20" cy="434.90" r="2.8" fill="#1c7889"/>
</g>
<path d="M153.40 461.95L153.40 458.35M153.40 461.95L156.82 460.84M153.40 461.95L155.52 464.86M153.40 461.95L151.28 464.86M153.40 461.95L149.98 460.84" stroke="#f01818" stroke-width="1.9" stroke-linecap="butt" fill="none"/>
<path d="M184.70 462.35L184.70 458.75M184.70 462.35L188.12 461.24M184.70 462.35L186.82 465.26M184.70 462.35L182.58 465.26M184.70 462.35L181.28 461.24" stroke="#f01818" stroke-width="1.9" stroke-linecap="butt" fill="none"/>
<path d="M217.20 461.95L217.20 458.35M217.20 461.95L220.62 460.84M217.20 461.95L219.32 464.86M217.20 461.95L215.08 464.86M217.20 461.95L213.78 460.84" stroke="#f01818" stroke-width="1.9" stroke-linecap="butt" fill="none"/>
<path d="M217.20 453.65L217.20 450.05M217.20 453.65L220.62 452.54M217.20 453.65L219.32 456.56M217.20 453.65L215.08 456.56M217.20 453.65L213.78 452.54" stroke="#1d6e96" stroke-width="1.9" stroke-linecap="butt" fill="none"/>
<path d="M71.7 381.7V488.7H226" fill="none" stroke="#000" stroke-width="1.5"/>
<line x1="68.7" y1="488.7" x2="71.7" y2="488.7" stroke="#000" stroke-width="1.2"/>
<text x="64" y="491.59999999999997" font-size="8.4" font-weight="bold" text-anchor="end" fill="#000" textLength="9.2" lengthAdjust="spacingAndGlyphs" stroke="#000" stroke-width="0.25">25</text>
<line x1="68.7" y1="474.43" x2="71.7" y2="474.43" stroke="#000" stroke-width="1.2"/>
<text x="64" y="477.33" font-size="8.4" font-weight="bold" text-anchor="end" fill="#000" textLength="9.2" lengthAdjust="spacingAndGlyphs" stroke="#000" stroke-width="0.25">27</text>
<line x1="68.7" y1="460.15999999999997" x2="71.7" y2="460.15999999999997" stroke="#000" stroke-width="1.2"/>
<text x="64" y="463.05999999999995" font-size="8.4" font-weight="bold" text-anchor="end" fill="#000" textLength="9.2" lengthAdjust="spacingAndGlyphs" stroke="#000" stroke-width="0.25">29</text>
<line x1="68.7" y1="445.89" x2="71.7" y2="445.89" stroke="#000" stroke-width="1.2"/>
<text x="64" y="448.78999999999996" font-size="8.4" font-weight="bold" text-anchor="end" fill="#000" textLength="9.2" lengthAdjust="spacingAndGlyphs" stroke="#000" stroke-width="0.25">31</text>
<line x1="68.7" y1="431.62" x2="71.7" y2="431.62" stroke="#000" stroke-width="1.2"/>
<text x="64" y="434.52" font-size="8.4" font-weight="bold" text-anchor="end" fill="#000" textLength="9.2" lengthAdjust="spacingAndGlyphs" stroke="#000" stroke-width="0.25">33</text>
<line x1="68.7" y1="417.35" x2="71.7" y2="417.35" stroke="#000" stroke-width="1.2"/>
<text x="64" y="420.25" font-size="8.4" font-weight="bold" text-anchor="end" fill="#000" textLength="9.2" lengthAdjust="spacingAndGlyphs" stroke="#000" stroke-width="0.25">35</text>
<line x1="68.7" y1="403.08" x2="71.7" y2="403.08" stroke="#000" stroke-width="1.2"/>
<text x="64" y="405.97999999999996" font-size="8.4" font-weight="bold" text-anchor="end" fill="#000" textLength="9.2" lengthAdjust="spacingAndGlyphs" stroke="#000" stroke-width="0.25">37</text>
<line x1="68.7" y1="388.81" x2="71.7" y2="388.81" stroke="#000" stroke-width="1.2"/>
<text x="64" y="391.71" font-size="8.4" font-weight="bold" text-anchor="end" fill="#000" textLength="9.2" lengthAdjust="spacingAndGlyphs" stroke="#000" stroke-width="0.25">39</text>
<text x="90.6" y="505.1" font-size="10" font-weight="bold" text-anchor="middle" fill="#000" textLength="5.8" lengthAdjust="spacingAndGlyphs" stroke="#000" stroke-width="0.4">0</text>
<text x="120.7" y="505.1" font-size="10" font-weight="bold" text-anchor="middle" fill="#000" textLength="5.8" lengthAdjust="spacingAndGlyphs" stroke="#000" stroke-width="0.4">3</text>
<text x="154.3" y="505.1" font-size="10" font-weight="bold" text-anchor="middle" fill="#000" textLength="5.8" lengthAdjust="spacingAndGlyphs" stroke="#000" stroke-width="0.4">7</text>
<text x="181.8" y="505.1" font-size="10" font-weight="bold" text-anchor="middle" fill="#000" textLength="13.3" lengthAdjust="spacingAndGlyphs" stroke="#000" stroke-width="0.4">10</text>
<text x="211.2" y="505.1" font-size="10" font-weight="bold" text-anchor="middle" fill="#000" textLength="13.3" lengthAdjust="spacingAndGlyphs" stroke="#000" stroke-width="0.4">14</text>
<text x="161.8" y="526.4" font-size="12" font-weight="bold" text-anchor="middle" fill="#000" textLength="97.6" lengthAdjust="spacingAndGlyphs" stroke="#000" stroke-width="0.25">Day of Treatment</text>
<g transform="translate(45.00,434.70) rotate(-90)">
<text x="0" y="0" font-size="13.2" font-weight="bold" text-anchor="middle" fill="#000" textLength="105.8" lengthAdjust="spacingAndGlyphs" xml:space="preserve" stroke="#000" stroke-width="0.45">Shoot Length  [cm]</text>
</g>
<rect x="354.1" y="380.1" width="31.90" height="107.50" fill="#dadada"/>
<line x1="289.60" y1="470.5" x2="289.60" y2="484" stroke="#3a3a3a" stroke-width="0.9"/>
<line x1="321.90" y1="456.4" x2="321.90" y2="471.3" stroke="#3a3a3a" stroke-width="0.9"/>
<line x1="354.40" y1="433" x2="354.40" y2="450" stroke="#5a8cc0" stroke-width="0.9"/>
<line x1="354.40" y1="450" x2="354.40" y2="472" stroke="#e85a5a" stroke-width="0.9"/>
<line x1="386.10" y1="433" x2="386.10" y2="450" stroke="#5a8cc0" stroke-width="0.9"/>
<line x1="386.10" y1="450" x2="386.10" y2="468" stroke="#e85a5a" stroke-width="0.9"/>
<line x1="418.30" y1="427" x2="418.30" y2="445" stroke="#5a8cc0" stroke-width="0.9"/>
<line x1="418.30" y1="445" x2="418.30" y2="464" stroke="#e85a5a" stroke-width="0.9"/>
<path d="M289.60 477.30L321.90 463.40L354.40 445.60L386.10 439.00L418.30 433.40" fill="none" stroke="#000" stroke-width="1.35"/>
<path d="M286.60 477.30L289.60 474.30L292.60 477.30L289.60 480.30Z" fill="#000"/>
<path d="M318.90 463.40L321.90 460.40L324.90 463.40L321.90 466.40Z" fill="#000"/>
<path d="M351.40 445.60L354.40 442.60L357.40 445.60L354.40 448.60Z" fill="#000"/>
<path d="M383.10 439.00L386.10 436.00L389.10 439.00L386.10 442.00Z" fill="#000"/>
<path d="M415.30 433.40L418.30 430.40L421.30 433.40L418.30 436.40Z" fill="#000"/>
<path d="M321.90 463.00L354.40 439.50L386.10 442.00L418.30 436.00" fill="none" stroke="#000" stroke-width="1.35" stroke-dasharray="4.5 3"/>
<path d="M318.90 463.00L321.90 460.00L324.90 463.00L321.90 466.00Z" fill="#000"/>
<path d="M351.40 439.50L354.40 436.50L357.40 439.50L354.40 442.50Z" fill="#000"/>
<path d="M383.10 442.00L386.10 439.00L389.10 442.00L386.10 445.00Z" fill="#000"/>
<path d="M415.30 436.00L418.30 433.00L421.30 436.00L418.30 439.00Z" fill="#000"/>
<path d="M354.40 461.50L386.10 457.30L418.30 452.90" fill="none" stroke="#e31c1e" stroke-width="1.35"/>
<path d="M351.00 464.22L354.40 458.10L357.80 464.22Z" fill="#e31c1e"/>
<path d="M382.70 460.02L386.10 453.90L389.50 460.02Z" fill="#e31c1e"/>
<path d="M414.90 455.62L418.30 449.50L421.70 455.62Z" fill="#e31c1e"/>
<path d="M354.40 463.90L386.10 458.00L418.30 456.60" fill="none" stroke="#e31c1e" stroke-width="1.35" stroke-dasharray="4.5 3"/>
<path d="M351.00 466.62L354.40 460.50L357.80 466.62Z" fill="#e31c1e"/>
<path d="M382.70 460.72L386.10 454.60L389.50 460.72Z" fill="#e31c1e"/>
<path d="M414.90 459.32L418.30 453.20L421.70 459.32Z" fill="#e31c1e"/>
<path d="M354.40 445.60L386.10 444.90L418.30 449.30" fill="none" stroke="#2868a3" stroke-width="1.35"/>
<circle cx="354.40" cy="445.60" r="2.8" fill="#2868a3"/>
<circle cx="386.10" cy="444.90" r="2.8" fill="#2868a3"/>
<circle cx="418.30" cy="449.30" r="2.8" fill="#2868a3"/>
<path d="M354.40 439.50L386.10 444.00L418.30 439.00" fill="none" stroke="#2868a3" stroke-width="1.35" stroke-dasharray="4.5 3"/>
<circle cx="354.40" cy="439.50" r="2.8" fill="#2868a3"/>
<circle cx="386.10" cy="444.00" r="2.8" fill="#2868a3"/>
<circle cx="418.30" cy="439.00" r="2.8" fill="#2868a3"/>
<rect x="322.3" y="380.1" width="31.80" height="107.50" fill="#e6e6e6" fill-opacity="0.62"/>
<rect x="386" y="380.1" width="31.00" height="107.50" fill="#23f35b" fill-opacity="0.25"/>
<clipPath id="g273_487"><rect x="386" y="380.1" width="31.00" height="107.50"/></clipPath>
<g clip-path="url(#g273_487)">
<path d="M289.60 477.30L321.90 463.40L354.40 445.60L386.10 439.00L418.30 433.40" fill="none" stroke="#0a2312" stroke-width="1.35"/>
<path d="M286.60 477.30L289.60 474.30L292.60 477.30L289.60 480.30Z" fill="#0a2312"/>
<path d="M318.90 463.40L321.90 460.40L324.90 463.40L321.90 466.40Z" fill="#0a2312"/>
<path d="M351.40 445.60L354.40 442.60L357.40 445.60L354.40 448.60Z" fill="#0a2312"/>
<path d="M383.10 439.00L386.10 436.00L389.10 439.00L386.10 442.00Z" fill="#0a2312"/>
<path d="M415.30 433.40L418.30 430.40L421.30 433.40L418.30 436.40Z" fill="#0a2312"/>
<path d="M321.90 463.00L354.40 439.50L386.10 442.00L418.30 436.00" fill="none" stroke="#0a2312" stroke-width="1.35" stroke-dasharray="4.5 3"/>
<path d="M318.90 463.00L321.90 460.00L324.90 463.00L321.90 466.00Z" fill="#0a2312"/>
<path d="M351.40 439.50L354.40 436.50L357.40 439.50L354.40 442.50Z" fill="#0a2312"/>
<path d="M383.10 442.00L386.10 439.00L389.10 442.00L386.10 445.00Z" fill="#0a2312"/>
<path d="M415.30 436.00L418.30 433.00L421.30 436.00L418.30 439.00Z" fill="#0a2312"/>
<path d="M354.40 461.50L386.10 457.30L418.30 452.90" fill="none" stroke="#dc4a28" stroke-width="1.35"/>
<path d="M351.00 464.22L354.40 458.10L357.80 464.22Z" fill="#dc4a28"/>
<path d="M382.70 460.02L386.10 453.90L389.50 460.02Z" fill="#dc4a28"/>
<path d="M414.90 455.62L418.30 449.50L421.70 455.62Z" fill="#dc4a28"/>
<path d="M354.40 463.90L386.10 458.00L418.30 456.60" fill="none" stroke="#dc4a28" stroke-width="1.35" stroke-dasharray="4.5 3"/>
<path d="M351.00 466.62L354.40 460.50L357.80 466.62Z" fill="#dc4a28"/>
<path d="M382.70 460.72L386.10 454.60L389.50 460.72Z" fill="#dc4a28"/>
<path d="M414.90 459.32L418.30 453.20L421.70 459.32Z" fill="#dc4a28"/>
<path d="M354.40 445.60L386.10 444.90L418.30 449.30" fill="none" stroke="#1c7889" stroke-width="1.35"/>
<circle cx="354.40" cy="445.60" r="2.8" fill="#1c7889"/>
<circle cx="386.10" cy="444.90" r="2.8" fill="#1c7889"/>
<circle cx="418.30" cy="449.30" r="2.8" fill="#1c7889"/>
<path d="M354.40 439.50L386.10 444.00L418.30 439.00" fill="none" stroke="#1c7889" stroke-width="1.35" stroke-dasharray="4.5 3"/>
<circle cx="354.40" cy="439.50" r="2.8" fill="#1c7889"/>
<circle cx="386.10" cy="444.00" r="2.8" fill="#1c7889"/>
<circle cx="418.30" cy="439.00" r="2.8" fill="#1c7889"/>
</g>
<path d="M418.50 469.15L418.50 465.55M418.50 469.15L421.92 468.04M418.50 469.15L420.62 472.06M418.50 469.15L416.38 472.06M418.50 469.15L415.08 468.04" stroke="#f01818" stroke-width="1.9" stroke-linecap="butt" fill="none"/>
<path d="M273.5 380.9V487.6H434.5" fill="none" stroke="#000" stroke-width="1.5"/>
<line x1="270.5" y1="487.6" x2="273.5" y2="487.6" stroke="#000" stroke-width="1.2"/>
<text x="265" y="490.5" font-size="8.4" font-weight="bold" text-anchor="end" fill="#000" textLength="9.2" lengthAdjust="spacingAndGlyphs" stroke="#000" stroke-width="0.25">24</text>
<line x1="270.5" y1="473.33000000000004" x2="273.5" y2="473.33000000000004" stroke="#000" stroke-width="1.2"/>
<text x="265" y="476.23" font-size="8.4" font-weight="bold" text-anchor="end" fill="#000" textLength="9.2" lengthAdjust="spacingAndGlyphs" stroke="#000" stroke-width="0.25">26</text>
<line x1="270.5" y1="459.06" x2="273.5" y2="459.06" stroke="#000" stroke-width="1.2"/>
<text x="265" y="461.96" font-size="8.4" font-weight="bold" text-anchor="end" fill="#000" textLength="9.2" lengthAdjust="spacingAndGlyphs" stroke="#000" stroke-width="0.25">28</text>
<line x1="270.5" y1="444.79" x2="273.5" y2="444.79" stroke="#000" stroke-width="1.2"/>
<text x="265" y="447.69" font-size="8.4" font-weight="bold" text-anchor="end" fill="#000" textLength="9.2" lengthAdjust="spacingAndGlyphs" stroke="#000" stroke-width="0.25">30</text>
<line x1="270.5" y1="430.52000000000004" x2="273.5" y2="430.52000000000004" stroke="#000" stroke-width="1.2"/>
<text x="265" y="433.42" font-size="8.4" font-weight="bold" text-anchor="end" fill="#000" textLength="9.2" lengthAdjust="spacingAndGlyphs" stroke="#000" stroke-width="0.25">32</text>
<line x1="270.5" y1="416.25" x2="273.5" y2="416.25" stroke="#000" stroke-width="1.2"/>
<text x="265" y="419.15" font-size="8.4" font-weight="bold" text-anchor="end" fill="#000" textLength="9.2" lengthAdjust="spacingAndGlyphs" stroke="#000" stroke-width="0.25">34</text>
<line x1="270.5" y1="401.98" x2="273.5" y2="401.98" stroke="#000" stroke-width="1.2"/>
<text x="265" y="404.88" font-size="8.4" font-weight="bold" text-anchor="end" fill="#000" textLength="9.2" lengthAdjust="spacingAndGlyphs" stroke="#000" stroke-width="0.25">36</text>
<line x1="270.5" y1="387.71000000000004" x2="273.5" y2="387.71000000000004" stroke="#000" stroke-width="1.2"/>
<text x="265" y="390.61" font-size="8.4" font-weight="bold" text-anchor="end" fill="#000" textLength="9.2" lengthAdjust="spacingAndGlyphs" stroke="#000" stroke-width="0.25">38</text>
<text x="293.1" y="505.1" font-size="10" font-weight="bold" text-anchor="middle" fill="#000" textLength="5.8" lengthAdjust="spacingAndGlyphs" stroke="#000" stroke-width="0.4">0</text>
<text x="323" y="505.1" font-size="10" font-weight="bold" text-anchor="middle" fill="#000" textLength="5.8" lengthAdjust="spacingAndGlyphs" stroke="#000" stroke-width="0.4">3</text>
<text x="356" y="505.1" font-size="10" font-weight="bold" text-anchor="middle" fill="#000" textLength="5.8" lengthAdjust="spacingAndGlyphs" stroke="#000" stroke-width="0.4">7</text>
<text x="383.7" y="505.1" font-size="10" font-weight="bold" text-anchor="middle" fill="#000" textLength="13.3" lengthAdjust="spacingAndGlyphs" stroke="#000" stroke-width="0.4">10</text>
<text x="413.8" y="505.1" font-size="10" font-weight="bold" text-anchor="middle" fill="#000" textLength="13.3" lengthAdjust="spacingAndGlyphs" stroke="#000" stroke-width="0.4">14</text>
<text x="366.54999999999995" y="526.5999999999999" font-size="12" font-weight="bold" text-anchor="middle" fill="#000" textLength="97.69999999999999" lengthAdjust="spacingAndGlyphs" stroke="#000" stroke-width="0.25">Day of Treatment</text>
<g transform="translate(248.00,434.70) rotate(-90)">
<text x="0" y="0" font-size="13.2" font-weight="bold" text-anchor="middle" fill="#000" textLength="105.8" lengthAdjust="spacingAndGlyphs" xml:space="preserve" stroke="#000" stroke-width="0.45">Shoot Length  [cm]</text>
</g>
<text x="153.6" y="15.5" font-size="14" font-weight="normal" text-anchor="middle" fill="#000" textLength="41" lengthAdjust="spacingAndGlyphs" stroke="#000" stroke-width="0.4">Wheat</text>
<text x="356.8" y="15.5" font-size="14" font-weight="normal" text-anchor="middle" fill="#000" textLength="51.8" lengthAdjust="spacingAndGlyphs" stroke="#000" stroke-width="0.4">Triticale</text>
<text x="6.5" y="35.3" font-size="13.5" font-weight="normal" text-anchor="start" fill="#000" textLength="16.3" lengthAdjust="spacingAndGlyphs" stroke="#000" stroke-width="0.35">(a)</text>
<text x="6.8" y="222.8" font-size="13.5" font-weight="normal" text-anchor="start" fill="#000" textLength="16.8" lengthAdjust="spacingAndGlyphs" stroke="#000" stroke-width="0.35">(b)</text>
<text x="7.1" y="383.6" font-size="13.5" font-weight="normal" text-anchor="start" fill="#000" textLength="16.4" lengthAdjust="spacingAndGlyphs" stroke="#000" stroke-width="0.35">(c)</text>
<path d="M448 31H474.4" stroke="#000" stroke-width="1.6"/>
<path d="M458.00 31.00L461.40 27.60L464.80 31.00L461.40 34.40Z" fill="#000"/>
<text x="478" y="34.5" font-size="11.2" font-weight="bold" text-anchor="start" fill="#000" textLength="38" lengthAdjust="spacingAndGlyphs" stroke="#000" stroke-width="0.25">Control</text>
<path d="M448 55.4H453.5M468.5 55.4H474.4" stroke="#000" stroke-width="1.6"/>
<path d="M458.00 55.40L461.40 52.00L464.80 55.40L461.40 58.80Z" fill="#000"/>
<text x="478" y="58.9" font-size="11.2" font-weight="bold" text-anchor="start" fill="#000" textLength="48" lengthAdjust="spacingAndGlyphs" stroke="#000" stroke-width="0.25">Herbicide</text>
<path d="M448 79.6H474.4" stroke="#e31c1e" stroke-width="1.6"/>
<path d="M457.40 82.50L461.40 75.30L465.40 82.50Z" fill="#e31c1e"/>
<text x="478" y="83.1" font-size="11.2" font-weight="bold" text-anchor="start" fill="#000" textLength="41.6" lengthAdjust="spacingAndGlyphs" stroke="#000" stroke-width="0.25">Drought</text>
<path d="M448 104.2H453.5M468.5 104.2H474.4" stroke="#e31c1e" stroke-width="1.6"/>
<path d="M457.40 107.10L461.40 99.90L465.40 107.10Z" fill="#e31c1e"/>
<text x="478" y="107.7" font-size="11.2" font-weight="bold" text-anchor="start" fill="#000" textLength="14.5" lengthAdjust="spacingAndGlyphs" stroke="#000" stroke-width="0.25">HD</text>
<path d="M448 128.3H474.4" stroke="#2868a3" stroke-width="1.6"/>
<circle cx="461.40" cy="128.30" r="3.7" fill="#2868a3"/>
<text x="478" y="131.8" font-size="11.2" font-weight="bold" text-anchor="start" fill="#000" textLength="68.6" lengthAdjust="spacingAndGlyphs" stroke="#000" stroke-width="0.25">Waterlogging</text>
<path d="M448 152.5H453.5M468.5 152.5H474.4" stroke="#2868a3" stroke-width="1.6"/>
<circle cx="461.40" cy="152.50" r="3.7" fill="#2868a3"/>
<text x="478" y="156.0" font-size="11.2" font-weight="bold" text-anchor="start" fill="#000" textLength="17.8" lengthAdjust="spacingAndGlyphs" stroke="#000" stroke-width="0.25">HW</text>
</svg></body></html>
